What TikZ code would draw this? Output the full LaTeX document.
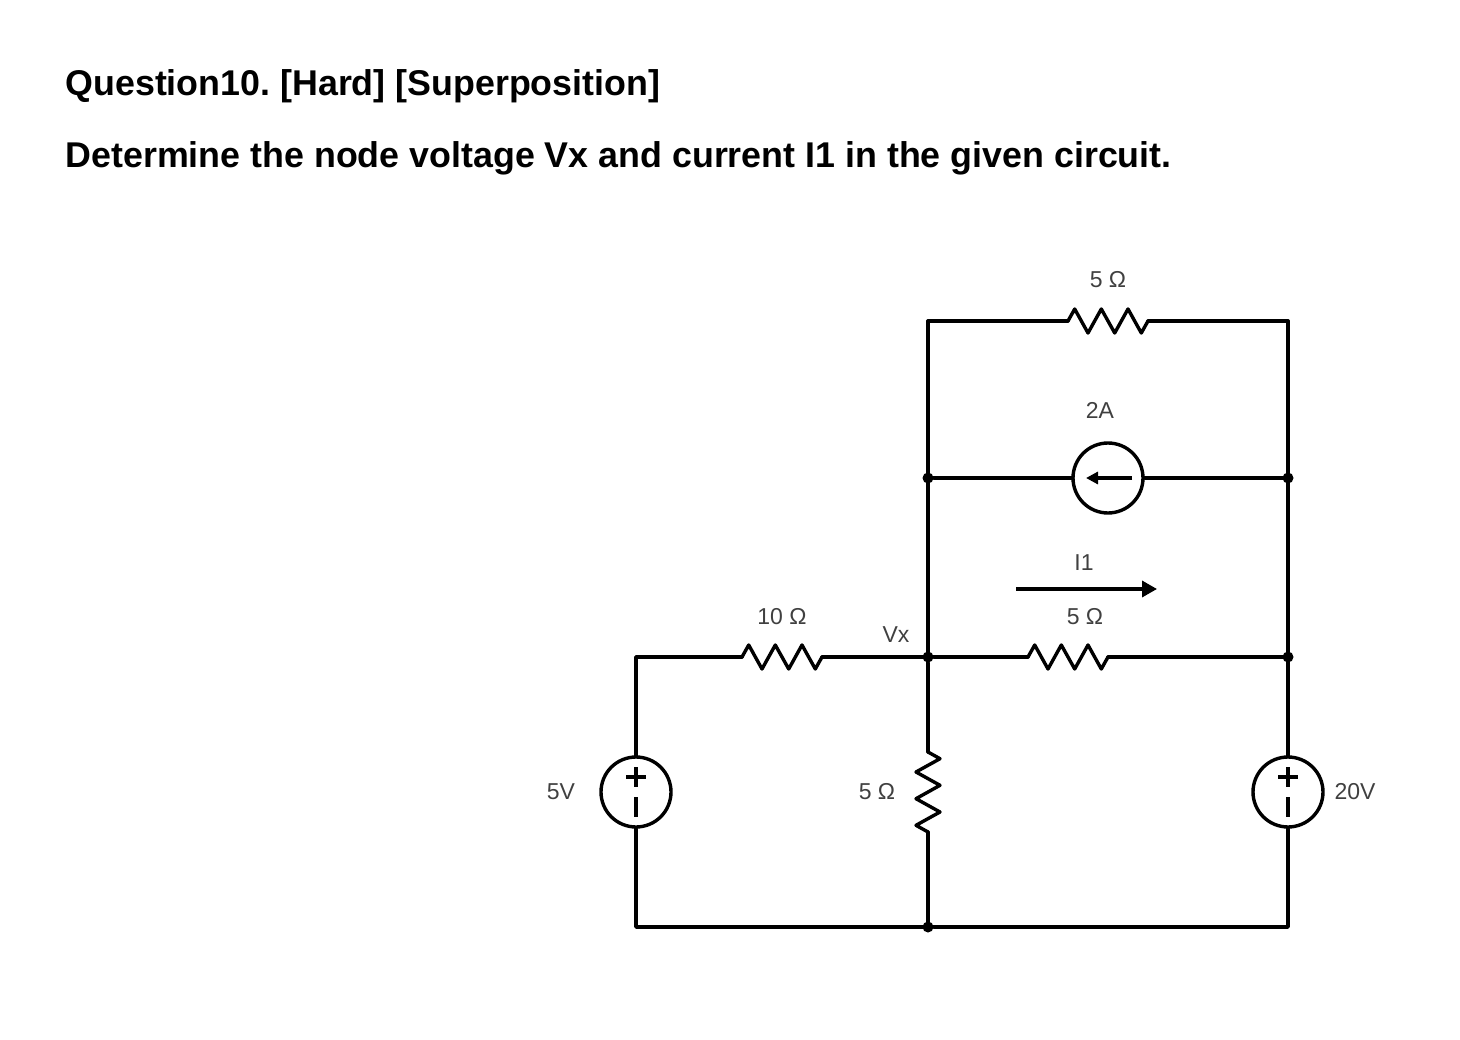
\documentclass[tikz,border=0pt]{standalone}
\usepackage{fontspec}
\setmainfont{Liberation Sans}
\usetikzlibrary{arrows.meta}
\frenchspacing
\begin{document}
\begin{tikzpicture}[x=1pt,y=-1pt,
  w/.style={line width=3.4pt,line cap=round,line join=round},
  lab/.style={font=\fontsize{23}{23}\selectfont,text=black!75},
  dot/.style={circle,fill=black,inner sep=0pt,minimum size=11pt},
  src/.style={circle,draw,line width=3.4pt,minimum size=70pt,inner sep=0pt},
  pics/resh/.style={code={\draw[w] (-40,0)--(-33.3,-12)--(-20,12)--(-6.7,-12)--(6.7,12)--(20,-12)--(33.3,12)--(40,0);}},
  pics/resv/.style={code={\draw[w] (0,-40)--(12,-33.3)--(-12,-20)--(12,-6.7)--(-12,6.7)--(12,20)--(-12,33.3)--(0,40);}}]
\useasboundingbox (0,0) rectangle (1460,1040);
\node[anchor=west,font=\bfseries\fontsize{35.8}{36}\selectfont] at (62,86) {Question10. [Hard] [Superposition]};
\node[anchor=west,font=\bfseries\fontsize{35.8}{36}\selectfont] at (62,158) {Determine the node voltage Vx and current I1 in the given circuit.};
% junctions
\coordinate (tl) at (928,321); \coordinate (tr) at (1288,321);
\node[dot] (ml) at (928,478) {}; \node[dot] (mr) at (1288,478) {};
\node[dot] (vx) at (928,657) {}; \node[dot] (rr) at (1288,657) {};
\coordinate (ll) at (636,657);
\node[dot] (bm) at (928,927) {};
\coordinate (bl) at (636,927); \coordinate (br) at (1288,927);
% sources
\node[src] (v5) at (636,792) {};
\node[src] (v20) at (1288,792) {};
\node[src] (i2) at (1108,478) {};
\foreach \s in {v5,v20}{
  \draw[line width=3.8pt] ([yshift=15pt]\s.center)++(-10,0)--++(20,0);
  \draw[line width=3.8pt] ([yshift=25pt]\s.center)--([yshift=5pt]\s.center);
  \draw[line width=3.8pt] ([yshift=-5pt]\s.center)--([yshift=-25pt]\s.center);
}
\draw[line width=3.4pt,-{Triangle[length=12pt,width=12pt]}] ([xshift=24pt]i2.center)--([xshift=-22pt]i2.center);
% resistors
\pic at (1108,321) {resh}; \pic at (782,657) {resh}; \pic at (1068,657) {resh};
\pic at (928,792) {resv};
% wires
\draw[w] (tl)--(1068,321); \draw[w] (1148,321)--(tr);
\draw[w] (tl)--(ml)--(vx)--(928,752); \draw[w] (928,832)--(bm);
\draw[w] (tr)--(mr)--(rr)--(v20.north); \draw[w] (v20.south)--(br)--(bm)--(bl)--(v5.south);
\draw[w] (v5.north)--(ll)--(742,657); \draw[w] (822,657)--(vx)--(1028,657); \draw[w] (1108,657)--(rr);
\draw[w] (ml)--(i2.west); \draw[w] (i2.east)--(mr);
% arrow I1
\coordinate (a1) at (1016,589); \coordinate (a2) at (1157,589);
\draw[line width=3.4pt,-{Triangle[length=15pt,width=16pt]}] (a1)--(a2);
% labels
\node[lab] at (1108,280) {5 Ω};
\node[lab] at (1100,410) {2A};
\node[lab] at (1084,563) {I1};
\node[lab] at (1085,617) {5 Ω};
\node[lab] at (782,617) {10 Ω};
\node[lab] at (896,635) {Vx};
\node[lab] at (877,792) {5 Ω};
\node[lab] at (561,792) {5V};
\node[lab] at (1355,792) {20V};
\end{tikzpicture}
\end{document}
